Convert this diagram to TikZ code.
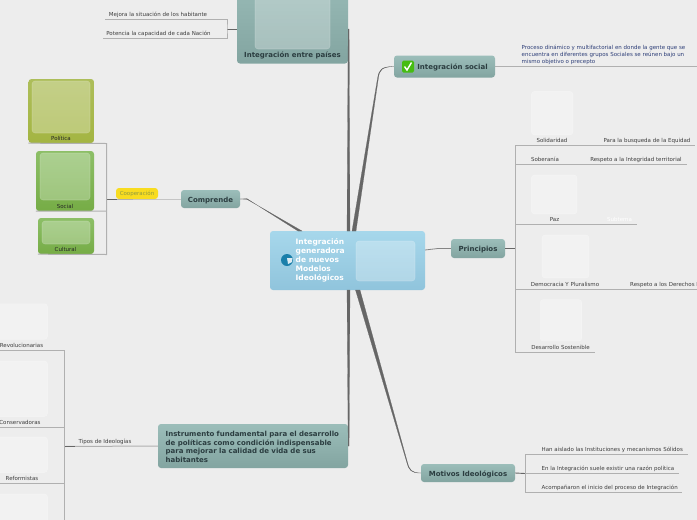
\documentclass[tikz,border=0pt]{standalone}
\usepackage{fontspec}
\setmainfont{DejaVu Sans}
\usetikzlibrary{calc}
\definecolor{bgc}{HTML}{EDEDED}
\definecolor{linec}{HTML}{B0B0B0}
\definecolor{darkc}{HTML}{666666}
\definecolor{txtc}{HTML}{3E3E3E}
\definecolor{boldc}{HTML}{2B3D40}
\definecolor{notec}{HTML}{2E3F78}
\definecolor{globec}{HTML}{1A7FAA}
\definecolor{checkc}{HTML}{46BC12}
\definecolor{yellowc}{HTML}{F8DC20}
\definecolor{cooptc}{HTML}{8E9A40}
\definecolor{ta}{HTML}{A8CAC6}\definecolor{tb}{HTML}{7C9E9A}\definecolor{tc}{HTML}{A4C6C2}
\definecolor{ba}{HTML}{B2E1F3}\definecolor{bb}{HTML}{8ABFD8}\definecolor{bc}{HTML}{ACE0F3}
\definecolor{oa}{HTML}{B2C266}\definecolor{ob}{HTML}{A0B23A}\definecolor{oc}{HTML}{B8CC5C}
\definecolor{ga}{HTML}{98C878}\definecolor{gb}{HTML}{6EA63A}\definecolor{gc}{HTML}{A0D070}
\pgfdeclareverticalshading{tealshade}{100bp}{color(0bp)=(tc);color(12bp)=(tb);color(100bp)=(ta)}
\pgfdeclareverticalshading{blueshade}{100bp}{color(0bp)=(bc);color(12bp)=(bb);color(100bp)=(ba)}
\pgfdeclareverticalshading{oliveshade}{100bp}{color(0bp)=(oc);color(8bp)=(ob);color(100bp)=(oa)}
\pgfdeclareverticalshading{greenshade}{100bp}{color(0bp)=(gc);color(8bp)=(gb);color(100bp)=(ga)}
\newcommand{\lowtxt}[2]{\raisebox{-#1pt}[0pt][0pt]{#2}}
\tikzset{
  basebox/.style={rectangle,rounded corners=3pt,inner sep=0pt,align=left},
  topic/.style={basebox,shading=tealshade,text=boldc,font=\bfseries\fontsize{7}{8.4}\selectfont},
  central/.style={basebox,shading=blueshade},
  olive/.style={basebox,shading=oliveshade},
  greenb/.style={basebox,shading=greenshade},
  inset/.style={basebox,fill=white,fill opacity=.28,draw=white,draw opacity=.2,line width=.6pt},
  blank/.style={basebox,fill=white,fill opacity=.32,draw=white,draw opacity=.25,line width=.6pt},
  small/.style={inner sep=0pt,text=txtc,yshift=-0.5pt,font=\fontsize{5.5}{6.6}\selectfont},
  branch/.style={draw=linec,line width=1pt},
  stem/.style={draw=darkc,line width=.9pt},
  taper/.style={fill=darkc,draw=darkc,line width=.2pt},
}
\begin{document}
\begin{tikzpicture}[x=1pt,y=-1pt]
\useasboundingbox (0,0) rectangle (697,520);
\clip (0,0) rectangle (697,520);
\fill[bgc] (0,0) rectangle (697,520);

% named anchors for branch ends
\coordinate (colJ) at (106.5,199);
\coordinate (colM) at (227,29);
\coordinate (colP) at (515,248.5);
\coordinate (colV) at (525,473.5);
\coordinate (colT) at (64.5,446.5);

% main topics
\node[central,minimum width=155pt,minimum height=59pt] (cen) at (347.5,260.5) {};
\node[inset,minimum width=59pt,minimum height=40pt] (cenimg) at (385.5,261) {};
\node[inner sep=0pt,text=white,align=left,anchor=north west,font=\bfseries\fontsize{7.5}{9}\selectfont] (centxt) at (295.5,238.7) {Integración\\generadora\\de nuevos\\Modelos\\Ideológicos};
\fill[globec] (287,260) circle (6);
\fill[white,opacity=.85] (287,258) -- (292.5,258) -- (292,262) -- (288,264) -- cycle;

\node[topic,minimum width=111pt,minimum height=94pt] (pais) at (292.5,16.5) {};
\node[inset,minimum width=75pt,minimum height=70pt] (paisimg) at (292.5,14) {};
\node[inner sep=0pt,text=boldc,font=\bfseries\fontsize{7}{8.4}\selectfont] (paistxt) at (292.5,55.5) {Integración entre países};

\node[topic,minimum width=101pt,minimum height=22pt,align=center] (social) at (444.5,66.5) {\hspace*{16pt}\lowtxt{3}{Integración social}};
\fill[checkc,rounded corners=1.5pt] (402,60.5) rectangle (414,72.5);
\draw[white,line width=1.4pt] (404.5,66.5) -- (407,70) -- (411.5,62.5);

\node[topic,minimum width=54pt,minimum height=19pt,align=center] (prin) at (478,248.5) {\lowtxt{3.2}{Principios}};
\node[topic,minimum width=94pt,minimum height=18pt,align=center] (moti) at (468,473) {\lowtxt{3.2}{Motivos Ideológicos}};
\node[topic,minimum width=59pt,minimum height=18pt,align=center] (compr) at (210.5,199) {\lowtxt{3.6}{Comprende}};
\node[topic,minimum width=190pt,minimum height=44pt] (inst) at (253,446) {};
\node[inner sep=0pt,text=boldc,text width=176pt,align=left,anchor=north west,font=\bfseries\fontsize{7}{8.4}\selectfont] (insttxt) at (165.5,431.4) {Instrumento fundamental para el desarrollo\\de políticas como condición indispensable\\para mejorar la calidad de vida de sus\\habitantes};

% central connectors (tapered)
\draw[taper] (347,231) -- ($(pais.east|-colM)+(0,0)$) -- ($(pais.east|-colM)+(0.9,0)$) -- (350,231) -- cycle;
\draw[taper] (352,231) -- (377.6,78) .. controls (379,70) and (381,66.5) .. (social.west) .. controls (381.5,67) and (379.5,70) .. (378.4,78) -- (356,231) -- cycle;
\draw[taper] (302,231) -- (247,199.3) -- (compr.east) -- (247,198.7) -- (298,231) -- cycle;
\draw[draw=darkc!80,line width=.8pt] (425,250) -- (438,248.5) -- (prin.west);
\draw[taper] (355.5,290) -- (407,463) .. controls (409,470) and (411,473.2) .. (moti.west) .. controls (411.5,472.8) and (409.6,470) .. (407.6,463) -- (360,290) -- cycle;
\draw[taper] (347,290) -- (inst.east) -- ($(inst.east)+(0.9,0)$) -- (350,290) -- cycle;

% Integración entre países branch
\draw[stem] (pais.west|-colM) -- (colM);
\draw[branch] (105,19.5) -- (227,19.5) -- (colM) -- (227,38.5) -- (103,38.5);
\node[small] (m1) at (158,14) {Mejora la situación de los habitante};
\node[small] (m2) at (158.5,33) {Potencia la capacidad de cada Nación};

% note
\draw[branch] (social.east) -- (697,66.5);
\node[small,text=notec,align=left,anchor=north west] (note) at (521.5,44.8) {Proceso dinámico y multifactorial en donde la gente que se\\encuentra en diferentes grupos Sociales se reúnen bajo un\\mismo objetivo o precepto};

% Comprende branch
\node[basebox,fill=yellowc,minimum width=42pt,minimum height=11pt] (coop) at (137,193.5) {};
\node[small,text=cooptc] (cooptxt) at (137,193.5) {Cooperación};
\draw[branch] (compr.west) -- (coop.south east|-colJ) -- (colJ);
\draw[stem] (colJ) -- (117,199);
\node[olive,minimum width=65.5pt,minimum height=64pt] (pol) at (61.25,111) {};
\node[inset,minimum width=58pt,minimum height=52pt] (polimg) at (61,107) {};
\node[small,text=black!85] (poltxt) at (61,138) {Política};
\node[greenb,minimum width=58pt,minimum height=60pt] (soc) at (65,181) {};
\node[inset,minimum width=50pt,minimum height=47pt] (socimg) at (65,176.5) {};
\node[small,text=black!85] (soctxt) at (65,206) {Social};
\node[greenb,minimum width=56pt,minimum height=36pt] (cul) at (66,236) {};
\node[inset,minimum width=48pt,minimum height=23pt] (culimg) at (66,232.5) {};
\node[small,text=black!85] (cultxt) at (65.5,249) {Cultural};
\draw[branch] (pol.south west) -- (106.5,143.5) -- (106.5,254.5) -- (cul.south west);
\draw[branch] (soc.south west) -- (106.5,211);

% Principios branch
\draw[stem,line width=1.2pt] (prin.east) -- (colP);
\draw[branch] (515,145.5) -- (515,352);
\draw[branch] (515,145.5) -- (695,145.5);
\draw[branch] (515,164.5) -- (687,164.5);
\draw[branch] (515,224.5) -- (636.5,224.5);
\draw[branch] (515,289) -- (697,289);
\draw[branch] (515,352) -- (595,352);
\node[blank,minimum width=41.5pt,minimum height=43.5pt] (sol) at (552.2,113.2) {};
\node[small] (soltxt) at (552,140) {Solidaridad};
\node[small] (eq) at (647,140) {Para la busqueda de la Equidad};
\node[small] (sob) at (545,159) {Soberanía};
\node[small] (terr) at (636,159) {Respeto a la Integridad territorial};
\node[blank,minimum width=45.5pt,minimum height=39pt] (paz) at (554.2,194.5) {};
\node[small] (paztxt) at (554.5,219) {Paz};
\node[small,text=white] (sub) at (619.5,219) {Subtema};
\node[blank,minimum width=47pt,minimum height=43pt] (dem) at (565.5,256.5) {};
\node[small] (demtxt) at (565,284) {Democracia Y Pluralismo};
\node[small,anchor=west] (der) at (630,284) {Respeto a los Derechos H};
\node[blank,minimum width=41.5pt,minimum height=41.5pt] (des) at (561,320.3) {};
\node[small] (destxt) at (560.5,347) {Desarrollo Sostenible};

% Motivos branch
\draw[stem] (moti.east) -- (colV);
\draw[branch] (688,454.5) -- (525,454.5) -- (525,492.5) -- (682,492.5);
\draw[branch] (colV) -- (679,473.5);
\node[small,anchor=west] (v1) at (541.5,449) {Han aislado las Instituciones y mecanismos Sólidos};
\node[small,anchor=west] (v2) at (541.5,468) {En la Integración suele existir una razón política};
\node[small,anchor=west] (v3) at (541.5,487) {Acompañaron el inicio del proceso de Integración};

% Ideologías branch
\draw[branch] (inst.west) -- (colT);
\draw[stem] (colT) -- (75,446.5);
\node[small] (tipos) at (105,441) {Tipos de Ideologías};
\draw[branch] (64.5,350.5) -- (64.5,525);
\draw[branch] (0,350.5) -- (64.5,350.5);
\draw[branch] (0,427) -- (64.5,427);
\draw[branch] (0,483.5) -- (64.5,483.5);
\node[blank,minimum width=60pt,minimum height=35.5pt] (rev) at (17.5,321.5) {};
\node[small] (revtxt) at (21.5,345) {Revolucionarias};
\node[blank,minimum width=60pt,minimum height=55.5pt] (con) at (17.5,388.7) {};
\node[small] (contxt) at (20,422) {Conservadoras};
\node[blank,minimum width=60pt,minimum height=35.5pt] (ref) at (17.5,454.7) {};
\node[small] (reftxt) at (22,478) {Reformistas};
\node[blank,minimum width=60pt,minimum height=50pt] (otr) at (17.5,519) {};
\end{tikzpicture}
\end{document}
